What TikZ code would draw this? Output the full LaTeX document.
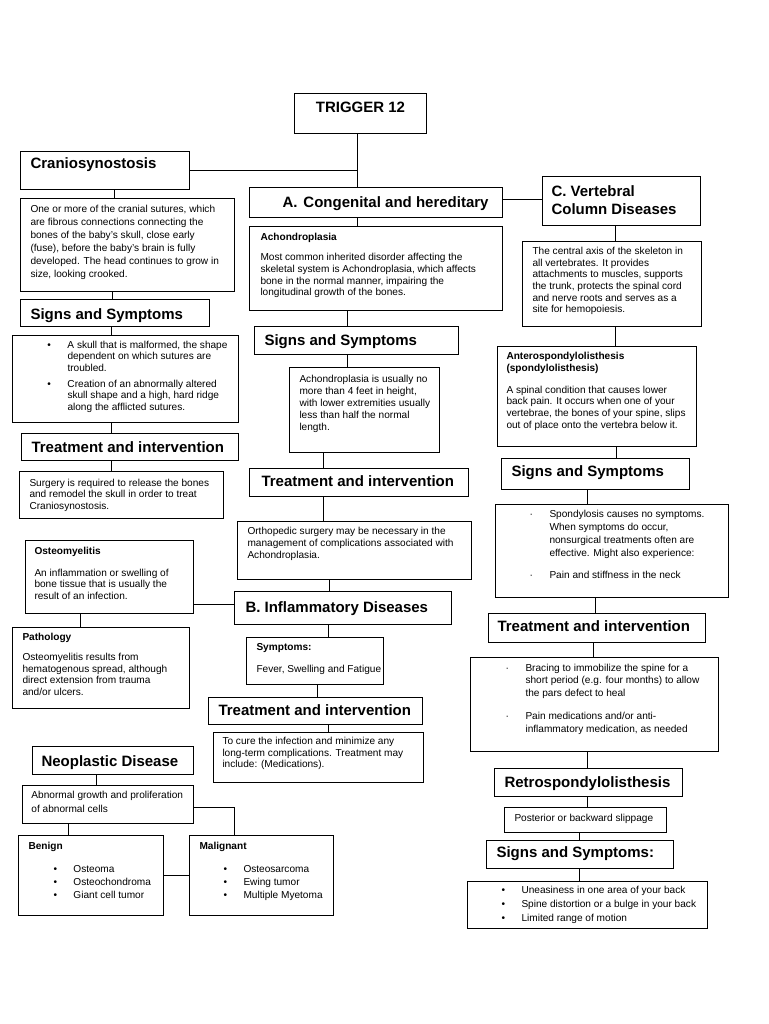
\documentclass[tikz,border=0pt]{standalone}
\usepackage{fontspec}
\setmainfont{Liberation Sans}

% box with its text set from the top left corner
\newcommand{\panel}[8]{\node (#2) [#1] at (#3,#4) {\parbox[t][\dimexpr#6pt-#4pt\relax][t]{\dimexpr#5pt-#3pt\relax}{\vskip#7pt\relax\leftskip=10pt\relax\rightskip=-30pt plus 1fil\relax #8}};}
\newcommand{\bul}{\makebox[20pt][l]{\textbullet}}
\newcommand{\dotb}{\makebox[20pt][l]{\textperiodcentered}}
\newcommand{\indt}{\hspace*{20pt}}

\begin{document}
\begin{tikzpicture}[x=1pt, y=-1pt]
		\tikzstyle{Head} = [rectangle, draw=black, line width=1pt, anchor=north west, inner sep=0pt, font=\fontsize{15}{18.6}\selectfont\bfseries]
		\tikzstyle{Txt} = [rectangle, draw=black, line width=1pt, anchor=north west, inner sep=0pt, font=\fontsize{10.1}{11.7}\selectfont]
		\tikzstyle{Link} = [line width=1pt, black]
		
		\useasboundingbox (0,0) rectangle (768,1024);
		
		\panel{Head}{trig}{294}{93}{426}{133}{8.3}{\centering TRIGGER 12}
		
		% craniosynostosis
		\panel{Head}{cran}{20}{151}{189}{189}{6}{Craniosynostosis}
		\panel{Txt}{cranD}{20}{198}{234}{291}{6.8}{\baselineskip=12.9pt\relax
			One or more of the cranial sutures, which\\
			are fibrous connections connecting the\\
			bones of the baby's skull, close early\\
			(fuse), before the baby's brain is fully\\
			developed. The head continues to grow in\\
			size, looking crooked.}
		\panel{Head}{signL}{20}{299}{209}{326}{8.9}{Signs and Symptoms}
		\panel{Txt}{bulL}{12}{335}{238}{422}{5.9}{\baselineskip=11.2pt\relax\leftskip=35pt\relax
			\bul A skull that is malformed, the shape\\
			\indt dependent on which sutures are\\
			\indt troubled.\\[5.4pt]
			\bul Creation of an abnormally altered\\
			\indt skull shape and a high, hard ridge\\
			\indt along the afflicted sutures.}
		\panel{Head}{treatL}{21}{433}{238}{460}{8.5}{Treatment and intervention}
		\panel{Txt}{surgL}{19}{471}{223}{518}{7.2}{\baselineskip=11.8pt\relax
			Surgery is required to release the bones\\
			and remodel the skull in order to treat\\
			Craniosynostosis.}
		
		% A. congenital and hereditary
		\panel{Head}{conA}{249}{187}{502}{217}{9.6}{\hspace*{23pt}A.\hspace{6pt}Congenital and hereditary}
		\panel{Txt}{achon}{249}{226}{502}{310}{6.9}{\leftskip=11pt\relax
			\textbf{Achondroplasia}\\[8.3pt]
			Most common inherited disorder affecting the\\
			skeletal system is Achondroplasia, which affects\\
			bone in the normal manner, impairing the\\
			longitudinal growth of the bones.}
		\panel{Head}{signM}{254}{326}{458}{354}{7.9}{Signs and Symptoms}
		\panel{Txt}{achS}{289}{367}{439}{452}{7.3}{\baselineskip=12pt\relax
			Achondroplasia is usually no\\
			more than 4 feet in height,\\
			with lower extremities usually\\
			less than half the normal\\
			length.}
		\panel{Head}{treatM}{249}{468}{468}{496}{6.8}{\leftskip=12pt\relax Treatment and intervention}
		\panel{Txt}{ortho}{237}{521}{471}{579}{5.8}{%
			Orthopedic surgery may be necessary in the\\
			management of complications associated with\\
			Achondroplasia.}
		
		% B. inflammatory diseases
		\panel{Head}{conB}{234}{591}{451}{624}{9.8}{\leftskip=11pt\relax B. Inflammatory Diseases}
		\panel{Txt}{sympB}{246}{637}{383}{684}{6.3}{%
			\textbf{Symptoms:}\\[10.3pt]
			Fever, Swelling and Fatigue}
		\panel{Head}{treatB}{208}{697}{422}{724}{7.1}{Treatment and intervention}
		\panel{Txt}{cure}{213}{732}{423}{782}{4.5}{\leftskip=9pt\relax
			To cure the infection and minimize any\\
			long-term complications. Treatment may\\
			include: (Medications).}
		\panel{Txt}{osteo}{25}{540}{193}{613}{6.6}{\leftskip=9pt\relax
			\textbf{Osteomyelitis}\\[10pt]
			An inflammation or swelling of\\
			bone tissue that is usually the\\
			result of an infection.}
		\panel{Txt}{patho}{12}{627}{189}{708}{5.6}{%
			\textbf{Pathology}\\[8.3pt]
			Osteomyelitis results from\\
			hematogenous spread, although\\
			direct extension from trauma\\
			and/or ulcers.}
		
		% neoplastic disease
		\panel{Head}{neo}{32}{746}{193}{774}{8.8}{\leftskip=9pt\relax Neoplastic Disease}
		\panel{Txt}{abn}{22}{785}{193}{823}{5.9}{\leftskip=9pt\relax\baselineskip=13.4pt\relax
			Abnormal growth and proliferation\\
			of abnormal cells}
		\panel{Txt}{benign}{18}{835}{163}{915}{6.9}{\baselineskip=13.3pt\relax
			\textbf{Benign}\\[9.1pt]
			\hspace*{25pt}\bul Osteoma\\
			\hspace*{25pt}\bul Osteochondroma\\
			\hspace*{25pt}\bul Giant cell tumor}
		\panel{Txt}{malig}{189}{835}{333}{915}{6.9}{\baselineskip=13.3pt\relax
			\textbf{Malignant}\\[9.1pt]
			\hspace*{24pt}\bul Osteosarcoma\\
			\hspace*{24pt}\bul Ewing tumor\\
			\hspace*{24pt}\bul Multiple Myetoma}
		
		% C. vertebral column diseases
		\panel{Head}{conC}{542}{176}{700}{225}{8.8}{\leftskip=9pt\relax C. Vertebral\\ Column Diseases}
		\panel{Txt}{axis}{522}{241}{701}{326}{5.5}{%
			The central axis of the skeleton in\\
			all vertebrates. It provides\\
			attachments to muscles, supports\\
			the trunk, protects the spinal cord\\
			and nerve roots and serves as a\\
			site for hemopoiesis.}
		\panel{Txt}{antero}{497}{346}{696}{446}{5.6}{\leftskip=9pt\relax
			\textbf{Anterospondylolisthesis}\\
			\textbf{(spondylolisthesis)}\\[10.3pt]
			A spinal condition that causes lower\\
			back pain. It occurs when one of your\\
			vertebrae, the bones of your spine, slips\\
			out of place onto the vertebra below it.}
		\panel{Head}{signR}{501}{458}{689}{489}{6.9}{Signs and Symptoms}
		\panel{Txt}{spond}{495}{504}{728}{597}{5.8}{\baselineskip=12.9pt\relax\leftskip=34pt\relax
			\dotb Spondylosis causes no symptoms.\\
			\indt When symptoms do occur,\\
			\indt nonsurgical treatments often are\\
			\indt effective. Might also experience:\\[9.4pt]
			\dotb Pain and stiffness in the neck}
		\panel{Head}{treatR}{488}{613}{705}{642}{6.8}{\leftskip=9pt\relax Treatment and intervention}
		\panel{Txt}{brace}{470}{657}{718}{751}{6.5}{\baselineskip=12.5pt\relax\leftskip=35pt\relax
			\dotb Bracing to immobilize the spine for a\\
			\indt short period (e.g. four months) to allow\\
			\indt the pars defect to heal\\[10.8pt]
			\dotb Pain medications and/or anti-\\
			\indt inflammatory medication, as needed}
		\panel{Head}{retro}{494}{768}{682}{796}{7.7}{Retrospondylolisthesis}
		\panel{Txt}{post}{504}{807}{666}{832}{6.5}{Posterior or backward slippage}
		\panel{Head}{signR2}{486}{840}{673}{868}{6.6}{Signs and Symptoms:}
		\panel{Txt}{lim}{467}{881}{707}{928}{4.8}{\baselineskip=13.7pt\relax\leftskip=34pt\relax
			\bul Uneasiness in one area of your back\\
			\bul Spine distortion or a bulge in your back\\
			\bul Limited range of motion}
		
		% connectors
		\draw [Link] (357,0 |- trig.south) -- (357,0 |- conA.north);
		\draw [Link] (cran.east) -- (357,0 |- cran.east);
		\draw [Link] (114,0 |- cran.south) -- (114,0 |- cranD.north);
		\draw [Link] (112,0 |- cranD.south) -- (112,0 |- signL.north);
		\draw [Link] (111,0 |- signL.south) -- (111,0 |- bulL.north);
		\draw [Link] (111,0 |- bulL.south) -- (111,0 |- treatL.north);
		\draw [Link] (111,0 |- treatL.south) -- (111,0 |- surgL.north);
		
		\draw [Link] (357,0 |- conA.south) -- (357,0 |- achon.north);
		\draw [Link] (347,0 |- achon.south) -- (347,0 |- signM.north);
		\draw [Link] (347,0 |- signM.south) -- (347,0 |- achS.north);
		\draw [Link] (323,0 |- achS.south) -- (323,0 |- treatM.north);
		\draw [Link] (323,0 |- treatM.south) -- (323,0 |- ortho.north);
		\draw [Link] (329,0 |- ortho.south) -- (329,0 |- conB.north);
		\draw [Link] (osteo.east |- 0,604) -- (conB.west |- 0,604);
		\draw [Link] (80,0 |- osteo.south) -- (80,0 |- patho.north);
		\draw [Link] (328,0 |- conB.south) -- (328,0 |- sympB.north);
		\draw [Link] (317,0 |- sympB.south) -- (317,0 |- treatB.north);
		\draw [Link] (328,0 |- treatB.south) -- (328,0 |- cure.north);
		
		\draw [Link] (96,0 |- neo.south) -- (96,0 |- abn.north);
		\draw [Link] (68,0 |- abn.south) -- (68,0 |- benign.north);
		\draw [Link] (benign.east |- 0,875) -- (malig.west |- 0,875);
		\draw [Link] (abn.east |- 0,807) -| (234,0 |- malig.north);
		
		\draw [Link] (conA.east |- 0,200) -- (conC.west |- 0,200);
		\draw [Link] (615,0 |- conC.south) -- (615,0 |- axis.north);
		\draw [Link] (615,0 |- axis.south) -- (615,0 |- antero.north);
		\draw [Link] (616,0 |- antero.south) -- (616,0 |- signR.north);
		\draw [Link] (587,0 |- signR.south) -- (587,0 |- spond.north);
		\draw [Link] (595,0 |- spond.south) -- (595,0 |- treatR.north);
		\draw [Link] (593,0 |- treatR.south) -- (593,0 |- brace.north);
		\draw [Link] (587,0 |- brace.south) -- (587,0 |- retro.north);
		\draw [Link] (587,0 |- retro.south) -- (587,0 |- post.north);
		\draw [Link] (579,0 |- post.south) -- (579,0 |- signR2.north);
		\draw [Link] (579,0 |- signR2.south) -- (579,0 |- lim.north);
\end{tikzpicture}
\end{document}
